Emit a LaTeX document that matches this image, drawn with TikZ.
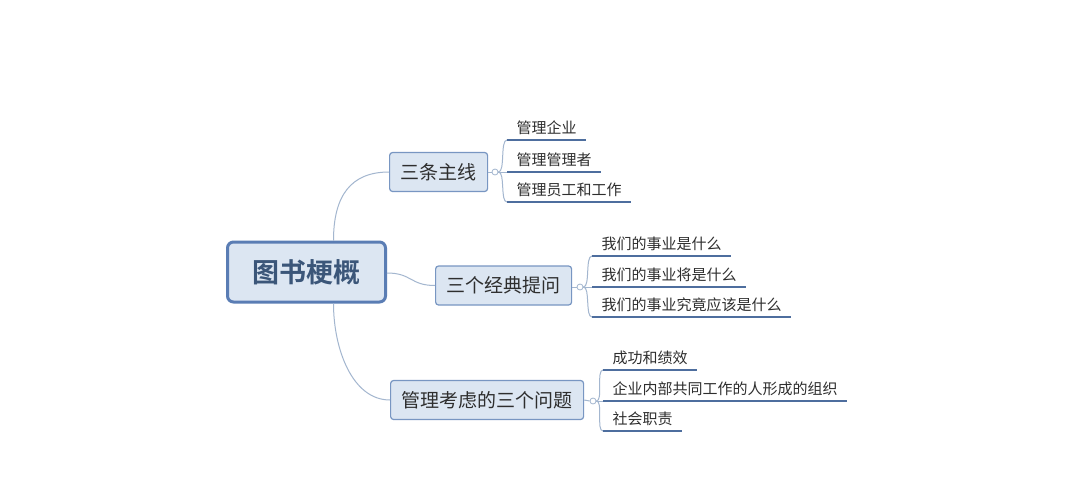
\documentclass[tikz,border=0pt]{standalone}
\usepackage{fontspec}
\setmainfont{Noto Sans CJK SC}[BoldFont={Noto Sans CJK SC Bold}]
\definecolor{boxfill}{HTML}{DCE6F2}
\definecolor{centerborder}{HTML}{5A7DB4}
\definecolor{boxborder}{HTML}{7896C2}
\definecolor{centertext}{HTML}{3B5679}
\definecolor{txt}{HTML}{2E2E2E}
\definecolor{uline}{HTML}{4E6E9E}
\definecolor{conn}{HTML}{A3B6CF}
\tikzset{
  centerbox/.style={draw=centerborder, line width=3pt, fill=boxfill, rounded corners=6pt,
    minimum width=158pt, minimum height=60pt, inner sep=0pt, text=centertext,
    font=\fontsize{27}{30}\selectfont\bfseries},
  branchbox/.style={draw=boxborder, line width=1.2pt, fill=boxfill, rounded corners=3pt,
    minimum height=39pt, inner xsep=11pt, inner ysep=0pt, text=txt,
    font=\fontsize{19}{22}\selectfont},
  leaf/.style={anchor=south west, inner xsep=9.5pt, inner ysep=3.3pt,
    text height=12pt, text depth=3pt, text=txt, font=\fontsize{15}{18}\selectfont},
  knob/.style={circle, draw=conn, fill=white, line width=0.8pt, minimum size=6pt, inner sep=0pt},
  link/.style={draw=conn, line width=1pt},
  ul/.style={draw=uline, line width=2.4pt}
}
\begin{document}
\begin{tikzpicture}[x=1pt,y=-1pt]
\useasboundingbox[fill=white] (0,0) rectangle (1080,491);

% central node
\node[centerbox] (c) at (306.5,272) {图书梗概};

% branch nodes
\node[branchbox, anchor=west] (b1) at (389,172) {三条主线};
\node[branchbox, anchor=west] (b2) at (435,285.5) {三个经典提问};
\node[branchbox, anchor=west] (b3) at (390,400) {管理考虑的三个问题};

% connectors from central node
\draw[link] ([xshift=27pt]c.north) .. controls +(0,-45) and +(-38,0) .. (b1.west);
\draw[link] ([yshift=-1pt]c.east) .. controls +(25,0) and +(-25,0) .. (b2.west);
\draw[link] ([xshift=27pt]c.south) .. controls +(0,45) and +(-38,0) .. (b3.west);

% knobs
\node[knob] (k1) at (495,172) {};
\node[knob] (k2) at (580,287) {};
\node[knob] (k3) at (593,401) {};
\draw[link] (b1.east) -- (k1.west);
\draw[link] (b2.east |- k2) -- (k2.west);
\draw[link] (b3.east) -- (k3.west);

% leaves of branch 1
\node[leaf] (l11) at (507,140) {管理企业};
\node[leaf] (l12) at (507,172) {管理管理者};
\node[leaf] (l13) at (507,202) {管理员工和工作};

% leaves of branch 2
\node[leaf] (l21) at (592,256) {我们的事业是什么};
\node[leaf] (l22) at (592,287) {我们的事业将是什么};
\node[leaf] (l23) at (592,317) {我们的事业究竟应该是什么};

% leaves of branch 3
\node[leaf] (l31) at (603,370) {成功和绩效};
\node[leaf] (l32) at (603,401) {企业内部共同工作的人形成的组织};
\node[leaf] (l33) at (603,431) {社会职责};

% brackets
\foreach \k/\a/\b/\cc in {k1/l11/l12/l13, k2/l21/l22/l23, k3/l31/l32/l33}{
  \draw[link] (\k.east) .. controls +(7,0) and +(-7,0) .. (\a.south west);
  \draw[link] (\k.east) -- (\b.south west);
  \draw[link] (\k.east) .. controls +(7,0) and +(-7,0) .. (\cc.south west);
}

% underlines
\foreach \l in {l11,l12,l13,l21,l22,l23,l31,l32,l33}{
  \draw[ul] (\l.south west) -- (\l.south east);
}
\end{tikzpicture}
\end{document}
